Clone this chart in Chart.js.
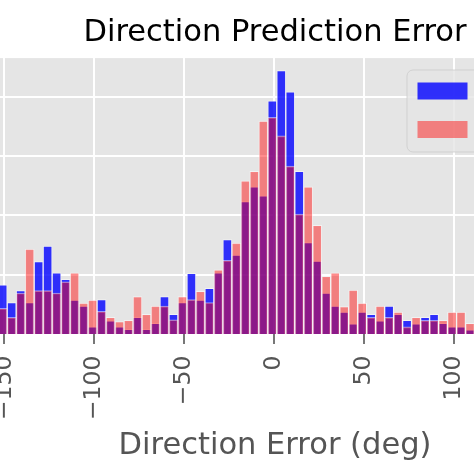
<!DOCTYPE html>
<html>
<head>
<meta charset="utf-8">
<script src="https://cdn.jsdelivr.net/npm/chart.js@4/dist/chart.umd.min.js"></script>
<style>
  html, body { margin: 0; padding: 0; background: #fff; overflow: hidden; }
  #wrap { width: 474px; height: 474px; overflow: hidden; position: relative; }
  #c { display: block; }
</style>
</head>
<body>
<div id="wrap"><canvas id="c" width="550" height="474"></canvas></div>
<script>
// histogram bins (5 deg wide)
const binCenters = [-151, -146, -141, -136, -131, -126, -121, -116, -111, -106,
  -101, -96, -91, -86, -81, -76, -71, -66, -61, -56,
  -51, -46, -41, -36, -31, -26, -21, -16, -11, -6,
  -1, 4, 9, 14, 19, 24, 29, 34, 39, 44,
  49, 54, 59, 64, 69, 74, 79, 84, 89, 94,
  99, 104, 109];

const blueCounts = [8.3, 5.3, 7.3, 5.3, 12.2, 14.8, 10.3, 9.2, 5.7, 4.7,
  1.2, 5.8, 2.2, 1.2, 0.8, 2.8, 0.8, 1.8, 6.3, 3.3,
  5.3, 10.2, 5.7, 7.7, 10.3, 15.9, 13.3, 22.3, 24.8, 23.3,
  39.3, 44.4, 40.8, 27.4, 15.4, 12.3, 6.9, 4.7, 3.7, 1.7,
  3.7, 3.3, 2.2, 4.7, 3.3, 2.3, 1.7, 2.8, 3.3, 1.8,
  1.2, 1.2, 0.7];

const redCounts = [4.3, 2.8, 6.9, 14.3, 7.3, 7.3, 6.9, 8.8, 10.3, 5.2,
  5.7, 3.8, 2.8, 2.1, 2.3, 6.3, 3.3, 4.7, 4.7, 2.4,
  6.3, 5.8, 7.2, 5.3, 10.8, 12.4, 15.3, 25.8, 27.4, 35.9,
  36.5, 33.4, 28.3, 20.2, 24.8, 18.3, 9.7, 10.3, 4.6, 7.4,
  5.2, 2.8, 4.7, 2.8, 3.7, 1.2, 2.8, 2.3, 2.3, 2.3,
  3.7, 3.7, 1.8];

const seriesLabels = ['Model', 'Baseline'];
const xTickValues = [-150, -100, -50, 0, 50, 100, 150];
const yGridValues = [10, 20, 30, 40];

const BLUE = 'rgba(0, 0, 255, 0.8)';
const RED = 'rgba(255, 0, 0, 0.45)';
const FONT = "'DejaVu Sans', sans-serif";

// grey panel behind the plot, ggplot style
const panelBg = {
  id: 'panelBg',
  beforeDraw(chart) {
    const { ctx, chartArea: a } = chart;
    ctx.save();
    ctx.fillStyle = '#E5E5E5';
    ctx.fillRect(a.left, a.top, a.right - a.left, a.bottom - a.top);
    ctx.restore();
  }
};

// legend box in the upper right of the panel (runs past the crop)
const boxLegend = {
  id: 'boxLegend',
  afterDraw(chart) {
    const ctx = chart.ctx;
    const x = 407, y = 70, w = 135, h = 82;
    ctx.save();
    ctx.beginPath();
    ctx.roundRect(x, y, w, h, 6);
    ctx.fillStyle = 'rgba(229, 229, 229, 0.8)';
    ctx.fill();
    ctx.strokeStyle = 'rgba(204, 204, 204, 0.8)';
    ctx.lineWidth = 1;
    ctx.stroke();
    chart.data.datasets.slice().sort((a, b) => b.order - a.order).forEach((ds, i) => {
      const py = y + 12.5 + i * 38.5;
      ctx.fillStyle = ds.backgroundColor;
      ctx.fillRect(x + 10.5, py, 50, 17);
      ctx.fillStyle = '#000';
      ctx.font = '23px ' + FONT;
      ctx.textBaseline = 'middle';
      ctx.fillText(ds.label, x + 73, py + 9);
    });
    ctx.restore();
  }
};

new Chart(document.getElementById('c'), {
  type: 'bar',
  data: {
    datasets: [{
      label: seriesLabels[0],
      data: binCenters.map((x, i) => ({ x: x, y: blueCounts[i] })),
      backgroundColor: BLUE,
      borderColor: 'rgba(255, 255, 255, 0.5)',
      borderWidth: 1,
      grouped: false,
      order: 1
    }, {
      label: seriesLabels[1],
      data: binCenters.map((x, i) => ({ x: x, y: redCounts[i] })),
      backgroundColor: RED,
      borderColor: 'rgba(255, 255, 255, 0.5)',
      borderWidth: 1,
      grouped: false,
      order: 0
    }]
  },
  options: {
    responsive: false,
    animation: false,
    devicePixelRatio: 1,
    layout: { padding: 0, autoPadding: false },
    barPercentage: 1,
    categoryPercentage: 1,
    plugins: {
      legend: { display: false },
      tooltip: { enabled: false },
      title: {
        display: true,
        text: 'Direction Prediction Error',
        color: '#000',
        font: { family: FONT, size: 30.5, weight: 'normal', lineHeight: 1.2 },
        padding: { top: 14.5, bottom: 7 }
      }
    },
    scales: {
      x: {
        type: 'linear',
        min: -152.5,
        max: 153.5,
        offset: false,
        afterBuildTicks: s => { s.ticks = xTickValues.map(v => ({ value: v })); },
        afterFit: s => { s.paddingLeft = 0; s.paddingRight = 0; },
        border: { display: false },
        grid: {
          offset: false,
          color: '#fff',
          lineWidth: 2,
          drawTicks: true,
          tickLength: 10,
          tickColor: '#555555',
          tickWidth: 1.6
        },
        ticks: {
          autoSkip: false,
          minRotation: 90,
          maxRotation: 90,
          padding: 11.6,
          color: '#555555',
          font: { family: FONT, size: 23.5 },
          callback: v => String(v).replace('-', '\u2212')
        },
        title: {
          display: true,
          text: 'Direction Error (deg)',
          color: '#555555',
          font: { family: FONT, size: 30.5, lineHeight: 1.2 },
          // chart.js counts tick padding twice in the axis height
          padding: { top: -3.8, bottom: 9.5 }
        }
      },
      y: {
        min: 0,
        max: 46.5,
        afterBuildTicks: s => { s.ticks = yGridValues.map(v => ({ value: v })); },
        border: { display: false },
        grid: { color: '#fff', lineWidth: 2, drawTicks: false },
        ticks: { display: false }
      }
    }
  },
  plugins: [panelBg, boxLegend]
});
</script>
</body>
</html>
